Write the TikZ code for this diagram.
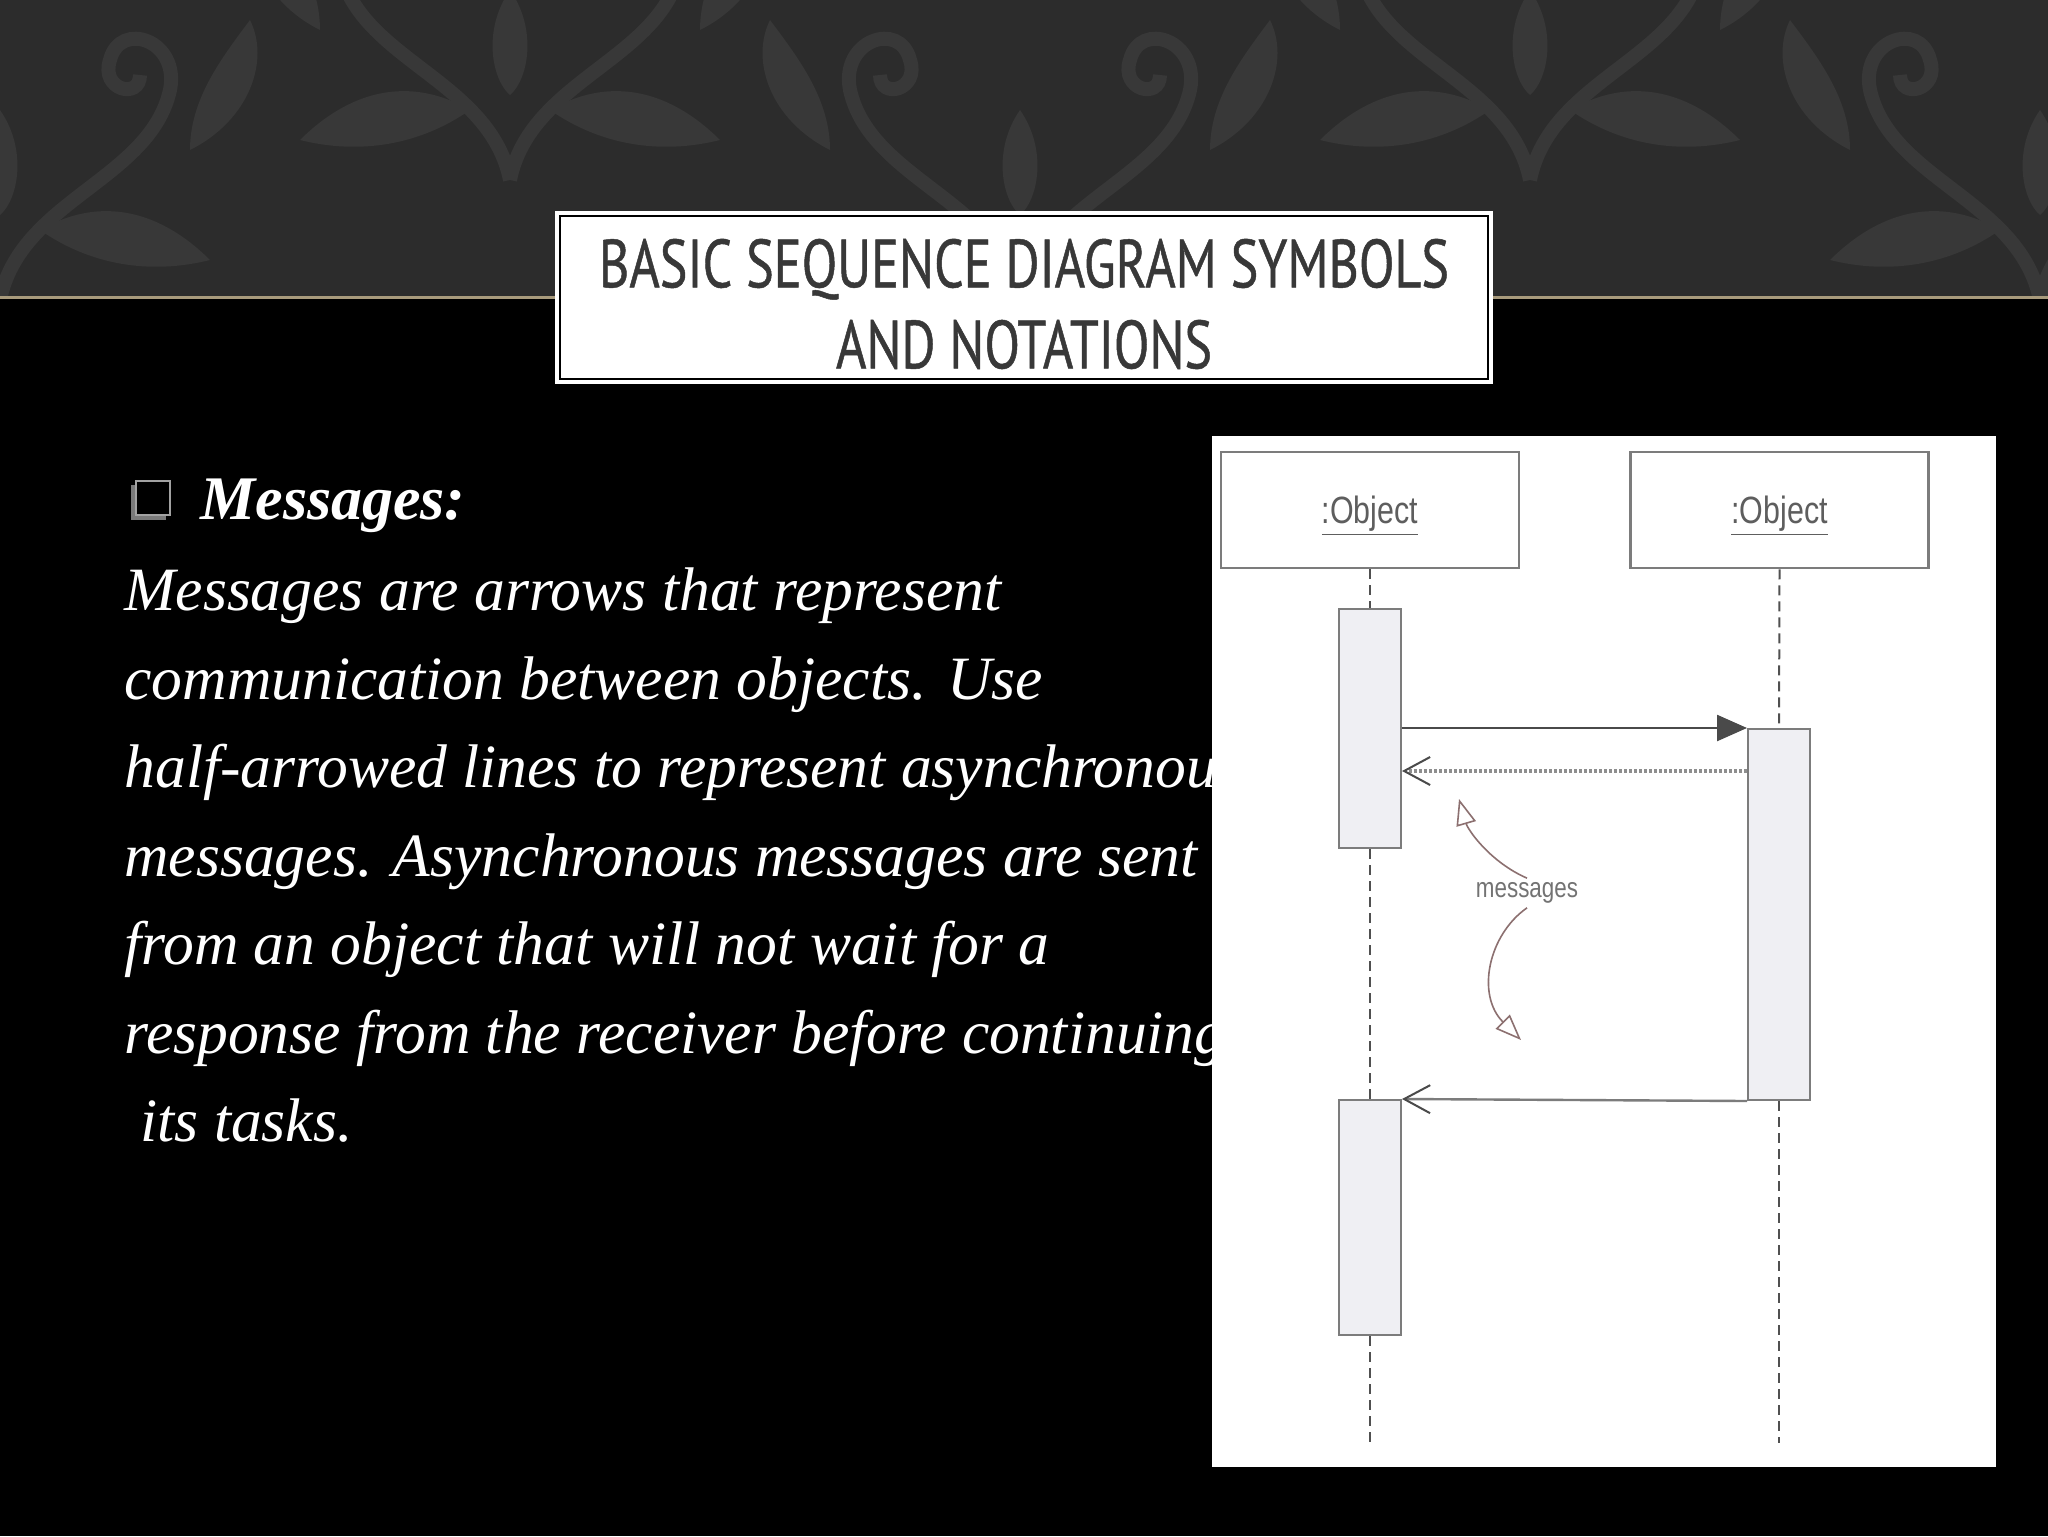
\documentclass[tikz,border=0pt]{standalone}
\usepackage{fontspec}
\setmainfont{Liberation Serif}
\newfontfamily\titlefont[FakeStretch=0.765,FakeBold=0.7]{PT Sans}
\newfontfamily\umlfont[FakeStretch=0.8]{Liberation Sans}
\usetikzlibrary{arrows.meta,positioning}

\definecolor{bandgray}{HTML}{2C2C2C}
\definecolor{damask}{HTML}{383838}
\definecolor{tanline}{HTML}{A89A7C}
\definecolor{titleink}{HTML}{383838}
\definecolor{umlline}{HTML}{7C7C7C}
\definecolor{barfill}{HTML}{EFEFF3}
\definecolor{objink}{HTML}{5E5E5E}
\definecolor{lifeink}{HTML}{505050}
\definecolor{msgink}{HTML}{4A4A4A}
\definecolor{dotink}{HTML}{8E8E8E}
\definecolor{noteink}{HTML}{8C7070}
\definecolor{bulletgray}{HTML}{7A7A7A}

\begin{document}
\begin{tikzpicture}[x=0.5pt, y=-0.5pt,
    bodyline/.style={anchor=base west, inner sep=0pt, text=white,
      font=\fontsize{30.8}{36}\selectfont\itshape},
    titleframe/.style={fill=white, draw=white, line width=1pt,
      minimum width=468pt, minimum height=85.5pt, inner sep=0pt},
    titletext/.style={align=center, text=titleink, inner sep=0pt,
      font=\titlefont\fontsize{34}{40.5}\selectfont},
    objbox/.style={draw=umlline, line width=1.3pt, fill=white,
      minimum width=149pt, minimum height=58pt, inner sep=0pt,
      font=\umlfont\fontsize{19}{22}\selectfont, text=objink},
    actbar/.style={draw=umlline, line width=1pt, fill=barfill,
      minimum width=31pt, inner sep=0pt},
    lifeline/.style={draw=lifeink, line width=1pt, dash pattern=on 5pt off 3pt},
    syncmsg/.style={draw=msgink, line width=1.2pt,
      -{Triangle[length=15pt,width=13pt,color=msgink]}},
    asyncmsg/.style={draw=dotink, line width=2pt, dash pattern=on 1.5pt off 1pt,
      -{Straight Barb[length=13pt,width=14pt,color=msgink,line width=1pt]}},
    replymsg/.style={draw=umlline, line width=1.2pt,
      -{Straight Barb[length=13pt,width=14pt,color=msgink,line width=1pt]}},
    msglabel/.style={font=\umlfont\fontsize{14}{16}\selectfont, text=black!55, inner sep=2pt},
    notearrow/.style={draw=noteink, line width=0.8pt,
      -{Triangle[open,length=13pt,width=10pt]}},
]
\useasboundingbox (0,0) rectangle (2048,1536);
\fill[black] (0,0) rectangle (2048,1536);

% header band with damask
\fill[bandgray] (0,0) rectangle (2048,297);
\begin{scope}
  \clip (0,0) rectangle (2048,295);
  \foreach \mx/\my in {0/0, 510/-120, 1020/0, 1530/-120, 2040/0} {
    \begin{scope}[shift={(\mx,\my)}]
      \draw[damask, line width=7pt] (0,300) .. controls (-20,200) and (-150,180) .. (-170,90)
        .. controls (-180,40) and (-120,20) .. (-110,60) .. controls (-100,90) and (-140,100) .. (-140,75);
      \draw[damask, line width=7pt] (0,300) .. controls (20,200) and (150,180) .. (170,90)
        .. controls (180,40) and (120,20) .. (110,60) .. controls (100,90) and (140,100) .. (140,75);
      \fill[damask] (-40,230) .. controls (-110,190) and (-170,220) .. (-210,260)
        .. controls (-150,275) and (-90,265) .. cycle;
      \fill[damask] (40,230) .. controls (110,190) and (170,220) .. (210,260)
        .. controls (150,275) and (90,265) .. cycle;
      \fill[damask] (0,110) .. controls (-28,150) and (-18,200) .. (0,215)
        .. controls (18,200) and (28,150) .. cycle;
      \fill[damask] (-190,150) .. controls (-250,120) and (-270,60) .. (-250,20)
        .. controls (-220,60) and (-190,100) .. cycle;
      \fill[damask] (190,150) .. controls (250,120) and (270,60) .. (250,20)
        .. controls (220,60) and (190,100) .. cycle;
    \end{scope}
  }
\end{scope}
\draw[tanline, line width=1.5pt] (0,297) -- (2048,297);

% title
\node[titleframe] (frame) at (1024,297.5) {};
\draw[black, line width=1.3pt] ([shift={(2.5pt,-2.5pt)}]frame.north west)
  rectangle ([shift={(-2.5pt,2.5pt)}]frame.south east);
\node[titletext] (title) at (1024,304) {BASIC SEQUENCE DIAGRAM SYMBOLS\\AND NOTATIONS};

% bullet text
\fill[bulletgray] (131,485) rectangle (166,520);
\fill[black] (136,481) rectangle (170,515);
\draw[bulletgray!70!white, line width=1pt] (136,481) rectangle (170,515);
\node[bodyline, font=\fontsize{31}{36}\selectfont\bfseries\itshape] (head) at (200,519) {Messages:};
\node[bodyline] (t1) at (124,610) {Messages are arrows that represent};
\node[bodyline] (t2) at (124,699) {communication between objects. Use};
\node[bodyline] (t3) at (124,787.5) {half-arrowed lines to represent asynchronous};
\node[bodyline] (t4) at (124,876) {messages. Asynchronous messages are sent};
\node[bodyline] (t5) at (124,964) {from an object that will not wait for a};
\node[bodyline] (t6) at (124,1053) {response from the receiver before continuing};
\node[bodyline] (t7) at (140,1141.5) {its tasks.};

% sequence diagram picture
\fill[white] (1212,436) rectangle (1996,1467);
\node[objbox] (obj1) at (1370,510) {\raisebox{-3pt}[\height][\depth]{\underline{:Object}}};
\node[objbox] (obj2) at (1779.5,510) {\raisebox{-3pt}[\height][\depth]{\underline{:Object}}};
\node[actbar, minimum height=119.5pt] (act1) at (1370,728.5) {};
\node[actbar, minimum height=185.5pt] (act2) at (1779,914.5) {};
\node[actbar, minimum height=117.5pt] (act3) at (1370,1217.5) {};
\coordinate (lend) at (0,1443);
\coordinate (reply) at (0,771);

\draw[lifeline] (obj1.south) -- (act1.north);
\draw[lifeline] (act1.south) -- (act3.north);
\draw[lifeline] (act3.south) -- (act3.south |- lend);
\draw[lifeline] (obj2.south) -- (act2.north);
\draw[lifeline] (act2.south) -- (act2.south |- lend);

\draw[syncmsg] (act1.east |- act2.north) -- (act2.north west);
\draw[asyncmsg] (act2.west |- reply) -- (act1.east |- reply);
\draw[replymsg] (act2.south west) -- (act3.north east);

\node[msglabel] (msglbl) at (1527,893) {messages};
\coordinate (tipA) at (1459,799);
\coordinate (tipB) at (1521,1040);
\draw[notearrow] (msglbl.north) .. controls (1490,862) and (1468,830) .. (tipA);
\draw[notearrow] (msglbl.south) .. controls (1488,935) and (1476,995) .. (tipB);
\end{tikzpicture}
\end{document}
